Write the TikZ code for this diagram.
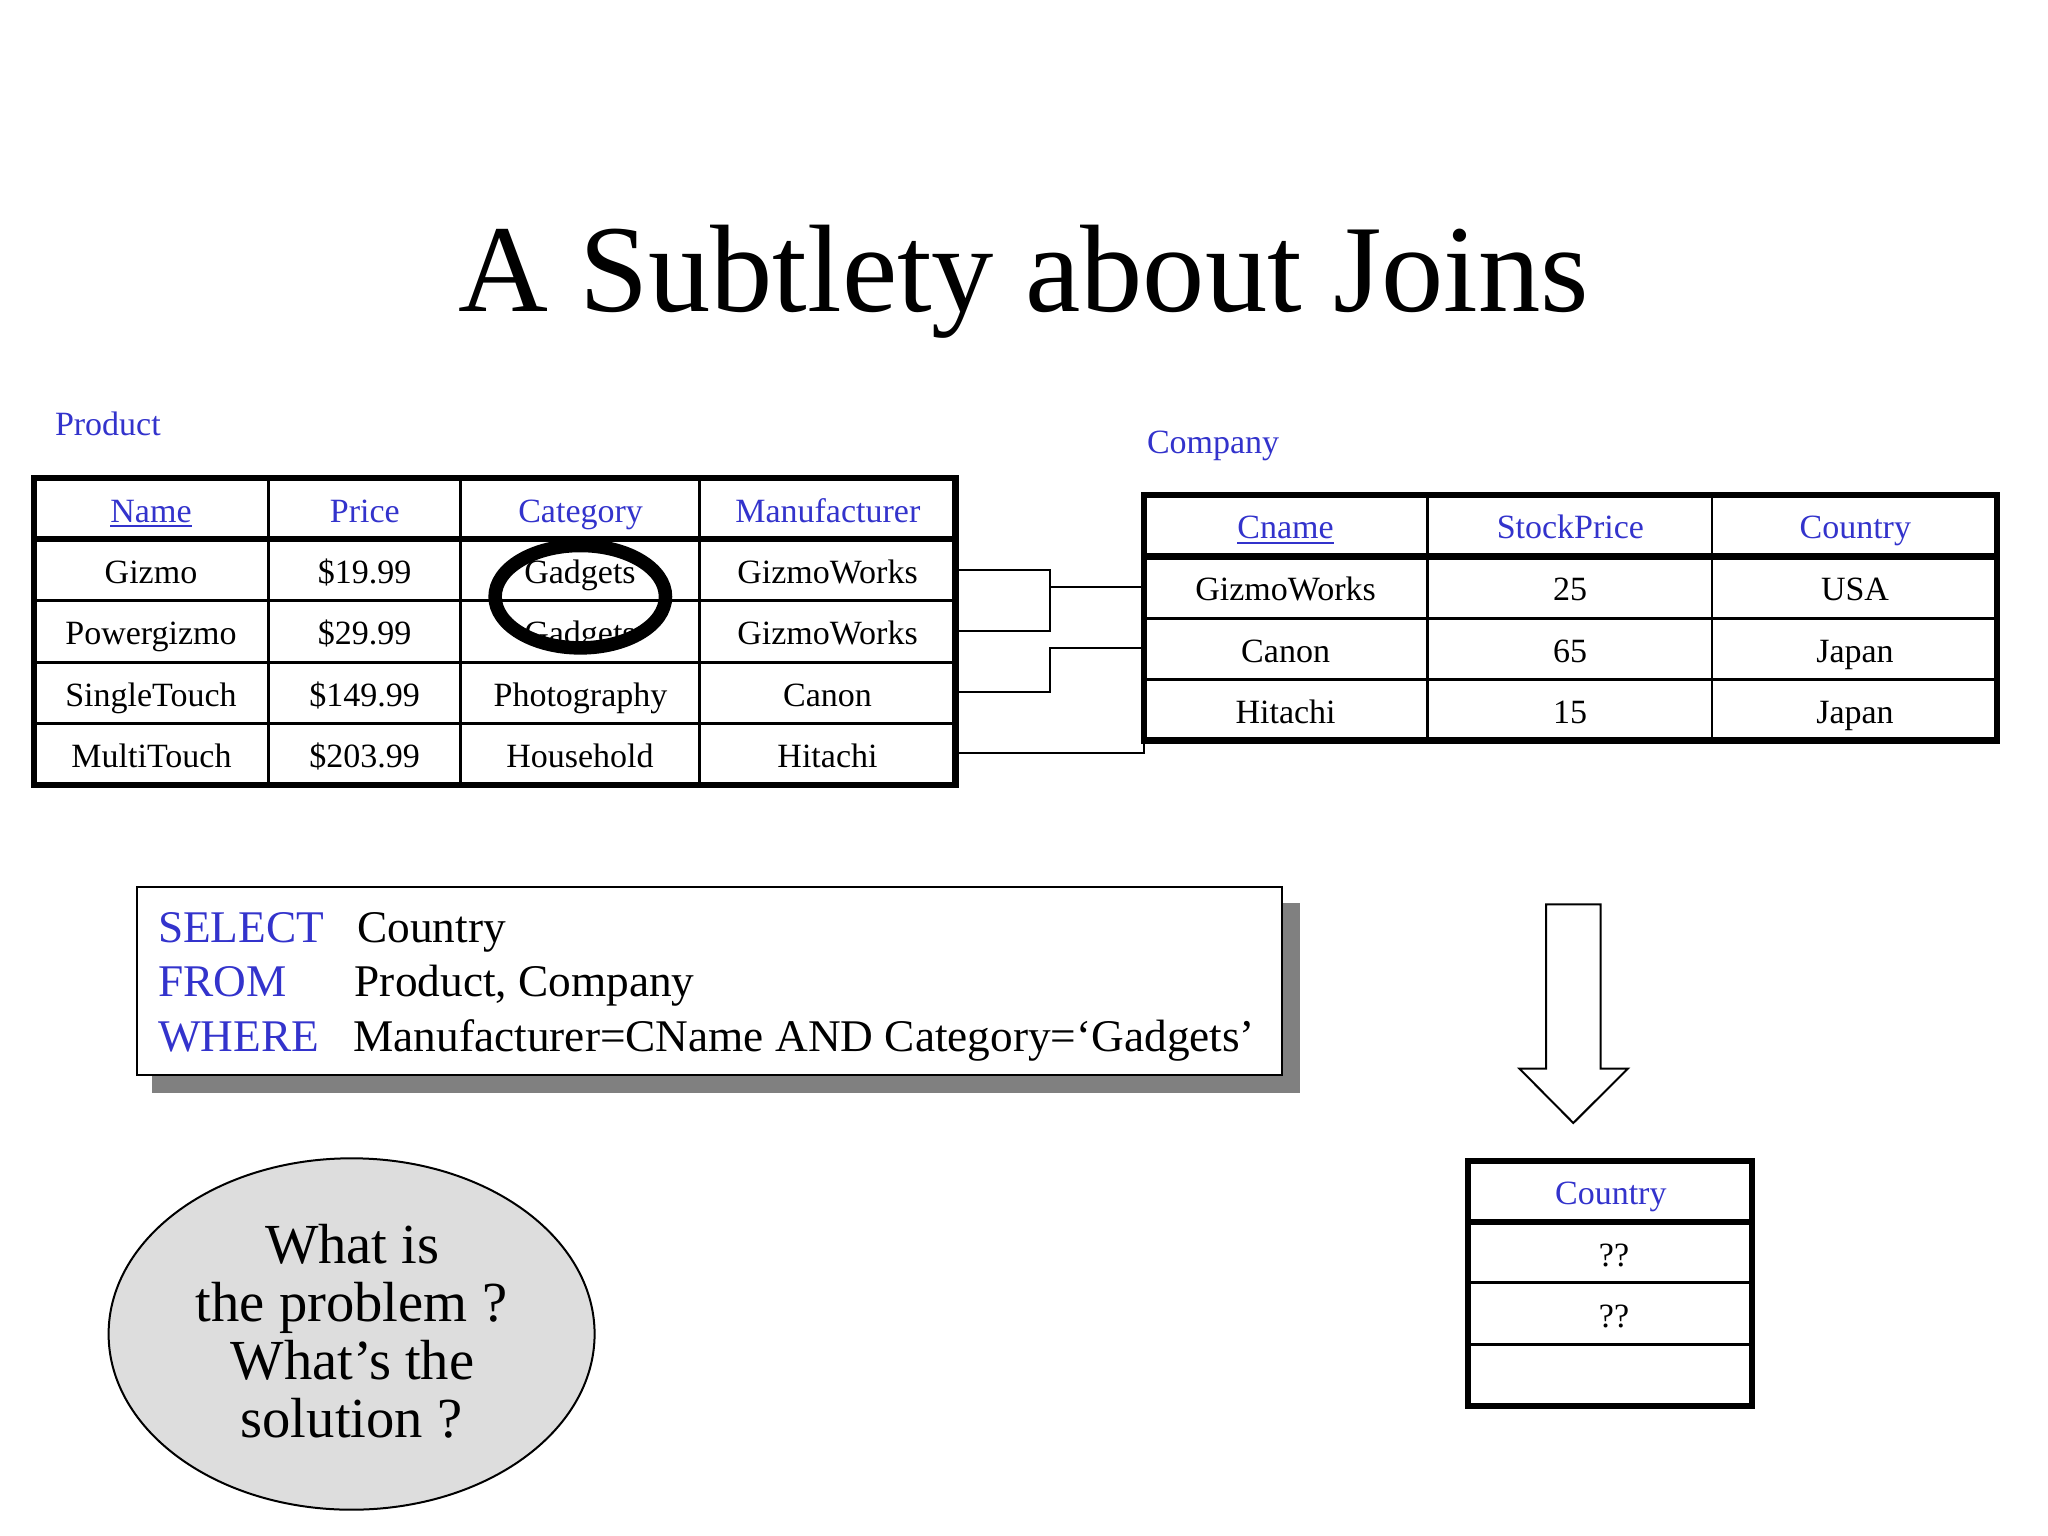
\documentclass[tikz,border=0pt]{standalone}
\usepackage{fontspec}
\setmainfont{Liberation Serif}
\definecolor{txtblue}{HTML}{3333CC}
\definecolor{shadowgray}{HTML}{808080}
\definecolor{bubblegray}{HTML}{DDDDDD}
\newcommand{\fs}[1]{\fontsize{#1}{#1}\selectfont}
\tikzset{
  tb/.style={anchor=base,inner sep=0pt,outer sep=0pt,font=\fs{34}},
  hd/.style={tb,text=txtblue},
  lab/.style={anchor=base west,inner sep=0pt,outer sep=0pt,font=\fs{34},text=txtblue},
  sqlk/.style={anchor=base west,inner sep=0pt,outer sep=0pt,font=\fs{45.3},text=txtblue},
  sqlv/.style={anchor=base west,inner sep=0pt,outer sep=0pt,font=\fs{45.3}},
  bub/.style={anchor=base,inner sep=0pt,outer sep=0pt,font=\fs{56.6}},
  frame/.style={draw=black,line width=6.4pt,rectangle,inner sep=0pt,outer sep=0pt,miter limit=10},
  grid/.style={draw=black,line width=2.5pt},
  rowl/.style={draw=black,line width=3pt},
  headl/.style={draw=black,line width=6.4pt},
  conn/.style={draw=black,line width=2pt},
}
\begin{document}
\begin{tikzpicture}[x=1pt,y=-1pt]
\useasboundingbox (0,0) rectangle (2048,1536);
\fill[white] (0,0) rectangle (2048,1536);

\node[anchor=base,inner sep=0pt,font=\fs{124.5}] (title) at (1023.5,311) {A Subtlety about Joins};
\node[lab] (lproduct) at (55,435.7) {Product};
\node[lab] (lcompany) at (1147,453.8) {Company};

% Product table
\node[frame,minimum width=921.5pt,minimum height=307pt] (product) at (494.75,631.5) {};
\foreach \x in {268.5,460.5,699.5} \draw[grid] (\x,478) -- (\x,785);
\draw[headl] (34,539) -- (955.5,539);
\foreach \y in {600.7,662.5,723.5} \draw[rowl] (34,\y) -- (955.5,\y);
\node[hd] (pn) at (151,522) {Name};
\draw[txtblue,line width=1.8pt] ([yshift=-3.6pt]pn.south west) -- ([yshift=-3.6pt]pn.south east);
\node[hd] (pp) at (364.8,522) {Price};
\node[hd] (pc) at (580.6,522) {Category};
\node[hd] (pm) at (827.8,522) {Manufacturer};
\node[tb] (a1) at (151,583) {Gizmo};
\node[tb] (a2) at (364.5,583) {\$19.99};
\node[tb] (a3) at (580,583) {Gadgets};
\node[tb] (a4) at (827.5,583) {GizmoWorks};
\node[tb] (b1) at (151,644.5) {Powergizmo};
\node[tb] (b2) at (364.5,644.5) {\$29.99};
\node[tb] (b3) at (580,644.5) {Gadgets};
\node[tb] (b4) at (827.5,644.5) {GizmoWorks};
\node[tb] (c1) at (151,706) {SingleTouch};
\node[tb] (c2) at (364.5,706) {\$149.99};
\node[tb] (c3) at (580.5,706) {Photography};
\node[tb] (c4) at (827.5,706) {Canon};
\node[tb] (d1) at (151.5,767.7) {MultiTouch};
\node[tb] (d2) at (364.5,767.7) {\$203.99};
\node[tb] (d3) at (580,767.7) {Household};
\node[tb] (d4) at (827.5,767.7) {Hitachi};
\draw[black,line width=13.5pt] (580.3,596.7) ellipse [x radius=85.2pt,y radius=51.2pt];

% Company table
\node[frame,minimum width=853pt,minimum height=245.5pt] (company) at (1570.5,617.75) {};
\foreach \x in {1427.7,1712} \draw[grid] (\x,495) -- (\x,740.5);
\draw[headl] (1144,556.3) -- (1997,556.3);
\foreach \y in {618,679} \draw[rowl] (1144,\y) -- (1997,\y);
\node[hd] (cn) at (1285.6,538.8) {Cname};
\draw[txtblue,line width=1.8pt] ([yshift=-3.6pt]cn.south west) -- ([yshift=-3.6pt]cn.south east);
\node[hd] (cs) at (1570.4,538.8) {StockPrice};
\node[hd] (cc) at (1855.3,538.8) {Country};
\node[tb] (e1) at (1285.6,600.4) {GizmoWorks};
\node[tb] (e2) at (1570,600.4) {25};
\node[tb] (e3) at (1855,600.4) {USA};
\node[tb] (f1) at (1285.6,662.4) {Canon};
\node[tb] (f2) at (1570,662.4) {65};
\node[tb] (f3) at (1855,662.4) {Japan};
\node[tb] (g1) at (1285.6,723.4) {Hitachi};
\node[tb] (g2) at (1570,723.4) {15};
\node[tb] (g3) at (1855,723.4) {Japan};

% Connectors
\coordinate (pa) at (958,569.5);
\coordinate (pb) at (958,630.5);
\coordinate (pcn) at (958,691.5);
\coordinate (pd) at (958,752.7);
\coordinate (ca) at (1142,587);
\coordinate (cb) at (1142,648);
\coordinate (cc2) at (1143.5,741);
\draw[conn] (pa) -- (1050,569.5) -- (1050,630.5) -- (pb);
\draw[conn] (1050,587) -- (ca);
\draw[conn] (pcn) -- (1050,691.5) -- (1050,648) -- (cb);
\draw[conn] (pd) -- (1143.5,752.7) -- (cc2);

% SQL box
\fill[shadowgray] (152,903) rectangle (1300,1093);
\node[draw=black,fill=white,line width=2pt,inner sep=0pt,outer sep=0pt,minimum width=1145pt,minimum height=187.5pt] (sql) at (709,980.75) {};
\node[sqlk] (s1) at (158,942.2) {SELECT};
\node[sqlk] (s2) at (158,996.5) {FROM};
\node[sqlk] (s3) at (158,1051.2) {WHERE};
\node[sqlv] (v1) at (357.4,942.2) {Country};
\node[sqlv] (v2) at (354.8,996.5) {Product, Company};
\node[sqlv] (v3) at (353.6,1051.2) {Manufacturer=CName AND Category=‘Gadgets’};

% Bubble
\draw[black,fill=bubblegray,line width=2pt] (351.6,1334) ellipse [x radius=243pt,y radius=175.7pt];
\coordinate (bubble) at (351.6,1334);
\node[bub] (q1) at (352.3,1263) {What is};
\node[bub] (q2) at (351.5,1321) {the problem ?};
\node[bub] (q3) at (352.6,1379.2) {What’s the};
\node[bub] (q4) at (351.5,1437.3) {solution ?};

% Arrow
\draw[black,fill=white,line width=2pt,miter limit=10] (1546,904.3) -- (1600.7,904.3) -- (1600.7,1068.5) -- (1628,1068.5) -- (1573.3,1123) -- (1519.3,1068.5) -- (1546,1068.5) -- cycle;

% Result table
\node[frame,minimum width=284pt,minimum height=245.3pt] (result) at (1610,1283.35) {};
\draw[headl] (1468,1222) -- (1752,1222);
\foreach \y in {1282.9,1344.6} \draw[rowl] (1468,\y) -- (1752,\y);
\node[hd] (rh) at (1610.8,1204) {Country};
\node[tb] (r1) at (1614,1266.4) {??};
\node[tb] (r2) at (1614,1327.9) {??};
\end{tikzpicture}
\end{document}
